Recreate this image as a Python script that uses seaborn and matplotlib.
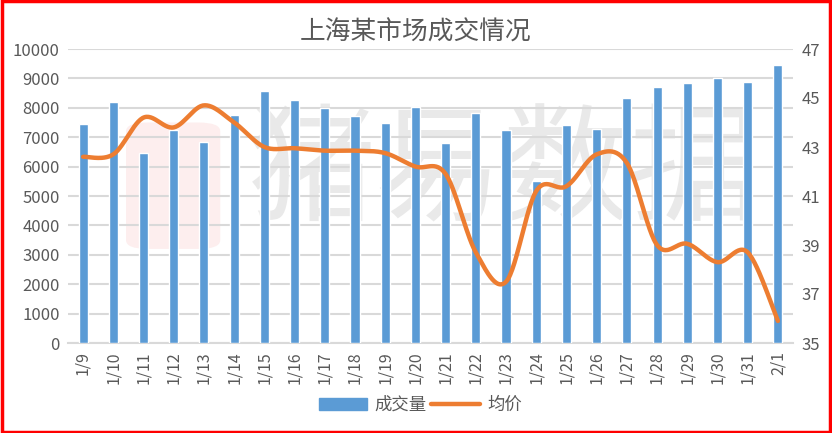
import numpy as np
import pandas as pd
import matplotlib
matplotlib.use("Agg")
import matplotlib.pyplot as plt
import seaborn as sns
from matplotlib.patches import Rectangle, Patch, FancyBboxPatch
from matplotlib.lines import Line2D

# 数据
dates = ["1/9", "1/10", "1/11", "1/12", "1/13", "1/14", "1/15", "1/16", "1/17", "1/18",
         "1/19", "1/20", "1/21", "1/22", "1/23", "1/24", "1/25", "1/26", "1/27", "1/28",
         "1/29", "1/30", "1/31", "2/1"]
volume = [7450, 8200, 6450, 7230, 6850, 7750, 8560, 8260, 7990, 7720,
          7480, 8020, 6800, 7820, 7230, 5500, 7420, 7270, 8330, 8700,
          8840, 9010, 8870, 9450]
price = [42.6, 42.7, 44.2, 43.8, 44.7, 44.0, 43.0, 42.95, 42.85, 42.85,
         42.75, 42.2, 41.9, 38.7, 37.5, 41.2, 41.4, 42.7, 42.35, 39.0,
         39.05, 38.3, 38.7, 35.9]

df = pd.DataFrame({"日期": dates, "成交量": volume, "均价": price})

sns.set_theme(style="white")
plt.rcParams['font.family'] = ['Noto Sans CJK SC', 'DejaVu Sans']

grey = "#595959"
blue = "#5B9BD5"
orange = "#ED7D31"

fig = plt.figure(figsize=(8.32, 4.33), dpi=100)
ax = fig.add_axes([68 / 832, 1 - 343 / 433, (793 - 68) / 832, (343 - 49) / 433])

# 水印 (在柱子后面)
ax.add_patch(FancyBboxPatch((0.09, 0.33), 0.11, 0.41, boxstyle="round,pad=0.01,rounding_size=0.03",
                            transform=ax.transAxes, facecolor="#fdeeee", edgecolor="none", zorder=0.2))
ax.text(0.6, 0.57, "猪易数据", transform=ax.transAxes, fontsize=92, color="#e9e9e9",
        ha="center", va="center", zorder=0.3)

sns.barplot(data=df, x="日期", y="成交量", color=blue, width=0.3, saturation=1, ax=ax, zorder=3)
ax.set_ylim(0, 10000)
ax.set_yticks(range(0, 10001, 1000))
ax.set_xlim(-0.5, len(dates) - 0.5)
ax.yaxis.grid(True, color="#d9d9d9", linewidth=1.5, zorder=0.5)
ax.set_axisbelow(True)
ax.patch.set_alpha(0)
for s in ["top", "right", "left"]:
    ax.spines[s].set_visible(False)
ax.spines["bottom"].set_color("#d9d9d9")
ax.spines["bottom"].set_linewidth(1.5)
ax.set_xlabel("")
ax.set_ylabel("")
ax.tick_params(axis="y", labelsize=12, colors=grey, length=0, pad=6)
ax.tick_params(axis="x", labelsize=11.5, colors=grey, length=0, rotation=90, pad=6)

# 均价 平滑曲线 (Catmull-Rom)
ax2 = ax.twinx()
xs = np.arange(len(price))
ys = np.array(price)
px = np.concatenate([[xs[0]], xs, [xs[-1]]])
py = np.concatenate([[ys[0]], ys, [ys[-1]]])
cx, cy = [], []
t = np.linspace(0, 1, 30)
for i in range(1, len(px) - 2):
    p0, p1, p2, p3 = py[i - 1], py[i], py[i + 1], py[i + 2]
    q0, q1, q2, q3 = px[i - 1], px[i], px[i + 1], px[i + 2]
    m1y, m2y = (p2 - p0) / 2, (p3 - p1) / 2
    m1x, m2x = (q2 - q0) / 2, (q3 - q1) / 2
    h00 = 2 * t**3 - 3 * t**2 + 1
    h10 = t**3 - 2 * t**2 + t
    h01 = -2 * t**3 + 3 * t**2
    h11 = t**3 - t**2
    cx.extend(h00 * q1 + h10 * m1x + h01 * q2 + h11 * m2x)
    cy.extend(h00 * p1 + h10 * m1y + h01 * p2 + h11 * m2y)
ax2.plot(cx, cy, color=orange, linewidth=3.2, solid_capstyle="round", zorder=4)
ax2.set_ylim(35, 47)
ax2.set_yticks(range(35, 48, 2))
ax2.grid(False)
for s in ["top", "right", "left", "bottom"]:
    ax2.spines[s].set_visible(False)
ax2.tick_params(axis="y", labelsize=12, colors=grey, length=0, pad=6)

fig.text(0.5, 1 - 33 / 433, "上海某市场成交情况", fontsize=18.5, color=grey, ha="center", va="center")

handles = [Patch(facecolor=blue, edgecolor=blue),
           Line2D([0], [0], color=orange, linewidth=3.2)]
fig.legend(handles, ["成交量", "均价"], loc="center", bbox_to_anchor=(0.505, 1 - 405 / 433),
           ncol=2, frameon=False, fontsize=12.5, labelcolor=grey, handlelength=2.8,
           handletextpad=0.4, columnspacing=0.3)

fig.patches.append(Rectangle((0.002, 0.003), 0.995, 0.994, transform=fig.transFigure,
                             fill=False, edgecolor="red", linewidth=2.5))

plt.savefig("out.png", dpi=100)
